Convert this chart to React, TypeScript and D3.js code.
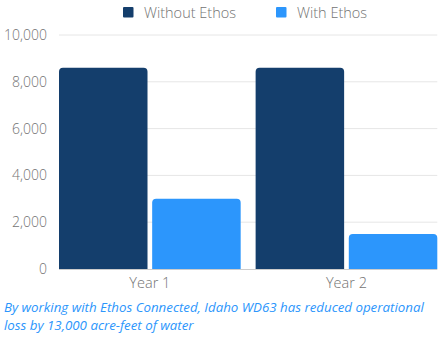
import React from "react";
import * as d3 from "d3";

const categories = ["Year 1", "Year 2"];
const seriesNames = ["Without Ethos", "With Ethos"];
const withoutEthos = [8600, 8600];
const withEthos = [3000, 1500];
const yTicks = [0, 2000, 4000, 6000, 8000, 10000];
const colors = ["#143e6c", "#2c96fc"];
const caption = [
  "By working with Ethos Connected, Idaho WD63 has reduced operational",
  "loss by 13,000 acre-feet of water",
];

const W = 442;
const H = 337;
const font = "'Open Sans', sans-serif";

function topRounded(x: number, y: number, w: number, h: number, r: number) {
  const rr = Math.min(r, h, w / 2);
  return `M${x},${y + h}V${y + rr}Q${x},${y} ${x + rr},${y}H${x + w - rr}Q${x + w},${y} ${x + w},${y + rr}V${y + h}Z`;
}

export default function App() {
  const x0 = d3.scaleBand<string>().domain(categories).range([59, 437.3]).paddingInner(0.076).paddingOuter(0);
  const x1 = d3.scaleBand<string>().domain(seriesNames).range([0, x0.bandwidth()]).paddingInner(0.05);
  const y = d3.scaleLinear().domain([0, 10000]).range([269, 35]);
  const fmt = d3.format(",");
  const series = [withoutEthos, withEthos];

  return (
    <svg width={W} height={H} style={{ position: "absolute", left: 0, top: 0, background: "#fff" }}>
      {yTicks.map((t) => (
        <g key={t}>
          {t > 0 && (
            <line x1={59} x2={437.3} y1={y(t)} y2={y(t)} stroke="#e6e6e6" strokeWidth={1} />
          )}
          <text x={47} y={y(t)} dy="0.35em" textAnchor="end" fontFamily={font} fontWeight={300} fontSize={14} fill="#737373">
            {fmt(t)}
          </text>
        </g>
      ))}
      {categories.map((c, i) => (
        <g key={c}>
          {seriesNames.map((s, j) => {
            const v = series[j][i];
            const bx = (x0(c) as number) + (x1(s) as number);
            return (
              <path key={s} d={topRounded(bx, y(v), x1.bandwidth(), y(0) - y(v), 4)} fill={colors[j]} />
            );
          })}
          <text
            x={(x0(c) as number) + x0.bandwidth() / 2}
            y={283}
            dy="0.35em"
            textAnchor="middle"
            fontFamily={font}
            fontWeight={300}
            fontSize={14.5}
            fill="#737373"
          >
            {c}
          </text>
        </g>
      ))}
      <line x1={59} x2={437.3} y1={y(0) + 0.5} y2={y(0) + 0.5} stroke="#ccc" strokeWidth={1} />
      {seriesNames.map((s, j) => {
        const lx = j === 0 ? 123 : 276;
        return (
          <g key={s}>
            <rect x={lx} y={7} width={10.5} height={10.5} rx={1} fill={colors[j]} />
            <text x={lx + 21} y={12.5} dy="0.35em" fontFamily={font} fontWeight={300} fontSize={14.5} fill="#737373">
              {s}
            </text>
          </g>
        );
      })}
      {caption.map((line, i) => (
        <text
          key={i}
          x={4}
          y={312 + i * 17.5}
          fontFamily={font}
          fontStyle="italic"
          fontSize={13.3}
          fill="#2c96fc"
        >
          {line}
        </text>
      ))}
    </svg>
  );
}
